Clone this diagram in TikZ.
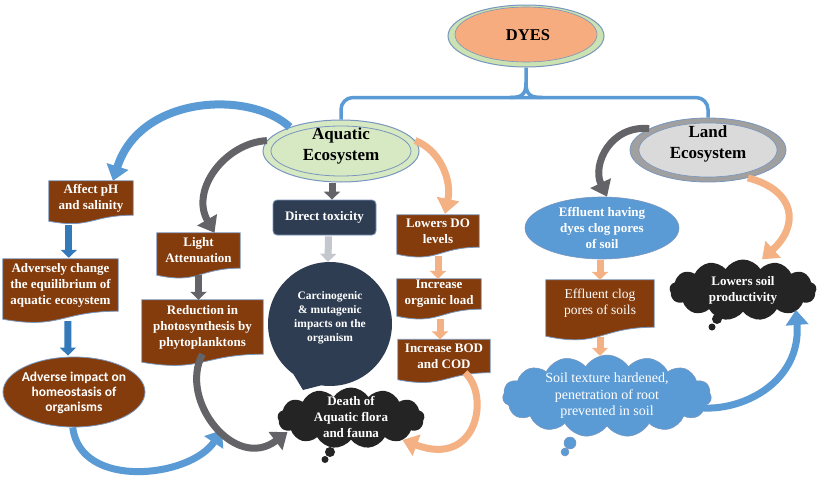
\documentclass[tikz,border=0pt]{standalone}
\usepackage{fontspec}
\setmainfont{Liberation Serif}
\newfontfamily\calfont{Carlito}
\usetikzlibrary{shapes.geometric,shapes.symbols,shapes.callouts,arrows.meta,calc,backgrounds}
\definecolor{brownfill}{RGB}{132,60,12}
\definecolor{boxline}{RGB}{120,150,190}
\definecolor{navy}{RGB}{46,61,82}
\definecolor{cloudblk}{RGB}{36,36,36}
\definecolor{skyblue}{RGB}{91,155,213}
\definecolor{arrblue}{RGB}{52,122,186}
\definecolor{peach}{RGB}{244,177,131}
\definecolor{darkgray}{RGB}{100,100,104}
\definecolor{ltgray}{RGB}{196,200,206}
\definecolor{lgreen}{RGB}{215,233,195}
\definecolor{ringgreen}{RGB}{203,226,178}
\definecolor{dyesorange}{RGB}{246,172,126}
\definecolor{landring}{RGB}{160,160,160}
\definecolor{landin}{RGB}{218,218,218}
\newcommand\docshape[2]{%
  \begin{pgfonlayer}{background}
    \filldraw[fill=brownfill,draw=boxline,line width=0.8pt]
      (#1.north west) -- (#1.north east) -- (#1.south east)
      .. controls (#1.south) and ($(#1.south)+(0,2.3*#2)$) ..
      ($(#1.south west)+(0,#2)$) -- cycle;
  \end{pgfonlayer}}
\tikzset{
  wtxt/.style={text=white,align=center,font=\bfseries\fontsize{13}{16}\selectfont},
  docnode/.style={wtxt,rectangle,inner sep=0pt},
  headtxt/.style={text=black,align=center,font=\bfseries\fontsize{17}{21}\selectfont},
  bracket/.style={draw=skyblue,line width=3.5pt},
  sarr/.style={line width=7pt,-{Triangle[width=16pt,length=8pt]}},
  carr/.style={line width=7pt,-{Triangle[width=22pt,length=15pt]}},
  bigcloud/.style={cloud,cloud puffs=13,cloud puff arc=115,cloud ignores aspect,inner sep=0pt},
}
\begin{document}
\begin{tikzpicture}[x=1pt,y=-1pt]
\begin{pgfonlayer}{background}
\fill[white] (0,0) rectangle (820,477);
\end{pgfonlayer}
\useasboundingbox (0,0) rectangle (820,477);

% ---- top ellipses
\node[ellipse,minimum width=156pt,minimum height=62pt,fill=ringgreen,draw=boxline,line width=1pt,inner sep=0pt] (dyes) at (526,36) {};
\fill[dyesorange,draw=boxline,line width=0.6pt] (526,34.5) ellipse [x radius=71, y radius=27.5];
\node[headtxt,font=\bfseries\fontsize{16.5}{20}\selectfont] (dyesT) at (528,35) {DYES};

\node[ellipse,minimum width=156pt,minimum height=62pt,fill=lgreen,draw=boxline,line width=1pt,inner sep=0pt,
      label={[headtxt,yshift=5pt]center:{Aquatic\\Ecosystem}}] (aqua) at (341,151) {};
\draw[boxline,line width=0.8pt] (aqua.center) ellipse [x radius=70, y radius=25];

\node[ellipse,minimum width=156pt,minimum height=64pt,fill=landring,draw=boxline,line width=0.8pt,inner sep=0pt] (land) at (708,150) {};
\fill[landin,draw=boxline,line width=0.6pt] (land.center) ellipse [x radius=69, y radius=27];
\node[headtxt] (landT) at (708,144) {Land\\Ecosystem};

% ---- bracket
\coordinate (brk) at ($(dyes.south)+(0,30)$);
\draw[bracket,rounded corners=12pt] (aqua.north) -- (aqua.north |- brk) -- (land.north |- brk) -- (land.north);
\draw[bracket] (dyes.south) -- ($(dyes.south)+(0,15)$)
  .. controls ($(dyes.south)+(0,27)$) and ($(dyes.south)+(-4,30)$) .. ($(dyes.south)+(-16,30)$);
\draw[bracket] ($(dyes.south)+(0,15)$)
  .. controls ($(dyes.south)+(0,27)$) and ($(dyes.south)+(4,30)$) .. ($(dyes.south)+(16,30)$);

% ---- left column
\node[docnode,minimum width=84pt,minimum height=34pt] (aph) at (91,198) {Affect pH\\and salinity};
\docshape{aph}{6}
\node[docnode,minimum width=115pt,minimum height=52pt] (adv) at (60.5,285) {Adversely change\\the equilibrium of\\aquatic ecosystem};
\docshape{adv}{8}
\node[ellipse,fill=brownfill,draw=boxline,line width=0.8pt,minimum width=142pt,minimum height=70pt,inner sep=0pt,
      label={[text=white,align=center,font=\calfont\bfseries\fontsize{13.5}{15}\selectfont,yshift=-1pt]center:{Adverse impact on\\homeostasis of\\organisms}}] (advimp) at (74,392) {};

% ---- second column
\node[docnode,minimum width=83pt,minimum height=35pt] (lig) at (198.5,250.5) {Light\\Attenuation};
\docshape{lig}{7}
\node[docnode,minimum width=121pt,minimum height=54pt] (red) at (202.5,327) {Reduction in\\photosynthesis by\\phytoplanktons};
\docshape{red}{8}

% ---- centre column
\node[wtxt,rectangle,rounded corners=4pt,fill=navy,draw=boxline,line width=0.8pt,minimum width=103pt,minimum height=35pt,inner sep=0pt] (dtox) at (324.5,217.5) {Direct toxicity};
\node[ellipse callout,callout absolute pointer={(303,390)},callout pointer arc=28,fill=navy,minimum width=124pt,minimum height=124pt,inner sep=0pt,
      label={[wtxt,font=\bfseries\fontsize{11.5}{14}\selectfont,yshift=6pt]center:{Carcinogenic\\\& mutagenic\\impacts on the\\organism}}] (bubble) at (330,324) {};
\node[bigcloud,fill=cloudblk,minimum width=147pt,minimum height=61pt,
      label={[wtxt,yshift=1pt]center:{Death of\\Aquatic flora\\and fauna}}] (death) at (351,418) {};
\fill[cloudblk] (330,452) circle [radius=5];
\fill[cloudblk] (325,459.5) circle [radius=3.5];

% ---- third column
\node[docnode,minimum width=82pt,minimum height=32pt] (ldo) at (438,231) {Lowers DO\\levels};
\docshape{ldo}{7}
\node[docnode,minimum width=84pt,minimum height=30pt] (iol) at (439,294) {Increase\\organic load};
\docshape{iol}{7}
\node[docnode,minimum width=92pt,minimum height=33pt] (bod) at (444,356) {Increase BOD\\and COD};
\docshape{bod}{7}

% ---- land side
\node[ellipse,fill=skyblue,draw=boxline,line width=0.6pt,minimum width=154pt,minimum height=62pt,inner sep=0pt,
      label={[wtxt]center:{Effluent having\\dyes clog pores\\of soil}}] (effd) at (602,228) {};
\node[docnode,font=\fontsize{13.5}{16}\selectfont,minimum width=108pt,minimum height=47pt] (ecl) at (600,303.5) {Effluent clog\\pores of soils};
\docshape{ecl}{9}
\node[bigcloud,cloud puffs=15,fill=skyblue,draw=boxline,line width=0.5pt,minimum width=209pt,minimum height=82pt,
      label={[text=white,align=center,font=\fontsize{14}{16.5}\selectfont]center:{Soil texture hardened,\\penetration of root\\prevented in soil}}] (soil) at (607,396) {};
\filldraw[fill=skyblue,draw=boxline,line width=0.5pt] (570,443) circle [radius=6];
\filldraw[fill=skyblue,draw=boxline,line width=0.5pt] (565,452) circle [radius=4];
\node[bigcloud,fill=cloudblk,minimum width=147pt,minimum height=61pt,
      label={[wtxt]center:{Lowers soil\\productivity}}] (lsoil) at (743,290) {};
\fill[cloudblk] (717,319) circle [radius=5];
\fill[cloudblk] (712,327) circle [radius=3.5];

% ---- straight block arrows
\draw[sarr,arrblue] ($(aph.south west)+(20,10)$) -- ($(adv.north west)+(66,-1)$);
\draw[sarr,arrblue] ($(adv.south west)+(65,10)$) -- ($(advimp.north)+(-6,-1)$);
\draw[sarr,darkgray] ($(lig.south)+(0,7)$) -- ($(red.north)+(-4,0)$);
\draw[sarr,darkgray] ($(aqua.south)+(-9,0)$) -- ($(dtox.north)+(7.5,0)$);
\draw[sarr,ltgray] ($(dtox.south)+(4,1)$) -- ($(bubble.north)+(-2,0)$);
\draw[sarr,peach] ($(ldo.south)+(0,9)$) -- ($(iol.north)+(-1,0)$);
\draw[sarr,peach] ($(iol.south)+(1,10)$) -- ($(bod.north)+(-4,0)$);
\draw[sarr,peach] ($(effd.south)+(-2,1)$) -- (ecl.north);
\draw[sarr,peach] ($(ecl.south)+(0,10)$) -- ($(soil.north)+(-7,1)$);

% ---- curved block arrows
\draw[carr,skyblue,line width=8pt] (aqua.155) .. controls (250,90) and (140,95) .. ($(aph.north)+(22,0)$);
\draw[carr,darkgray] (aqua.172) .. controls (225,143) and (190,190) .. ($(lig.north)+(16,0)$);
\draw[carr,peach] (aqua.8) .. controls (440,150) and (452,180) .. ($(ldo.north)+(7,-1)$);
\draw[carr,darkgray] (land.160) .. controls (610,125) and (592,165) .. ($(effd.north)+(5,0)$);
\draw[carr,peach] (land.-35) .. controls (795,190) and (800,225) .. ($(lsoil.north)+(19,0)$);
\coordinate (upend) at (222,430);
\draw[carr,skyblue] (advimp.-92) .. controls (80,490) and (190,478) .. (upend);
\draw[carr,darkgray] (red.south) .. controls (178,400) and (235,472) .. ($(death.west)+(10,14)$);
\draw[carr,peach] ($(bod.south)+(21,0)$) .. controls (490,395) and (478,468) .. ($(death.east)+(-22,22)$);
\draw[carr,skyblue] ($(soil.east)+(-34,6)$) .. controls (720,422) and (802,392) .. ($(lsoil.south)+(53,-2)$);
\end{tikzpicture}
\end{document}
